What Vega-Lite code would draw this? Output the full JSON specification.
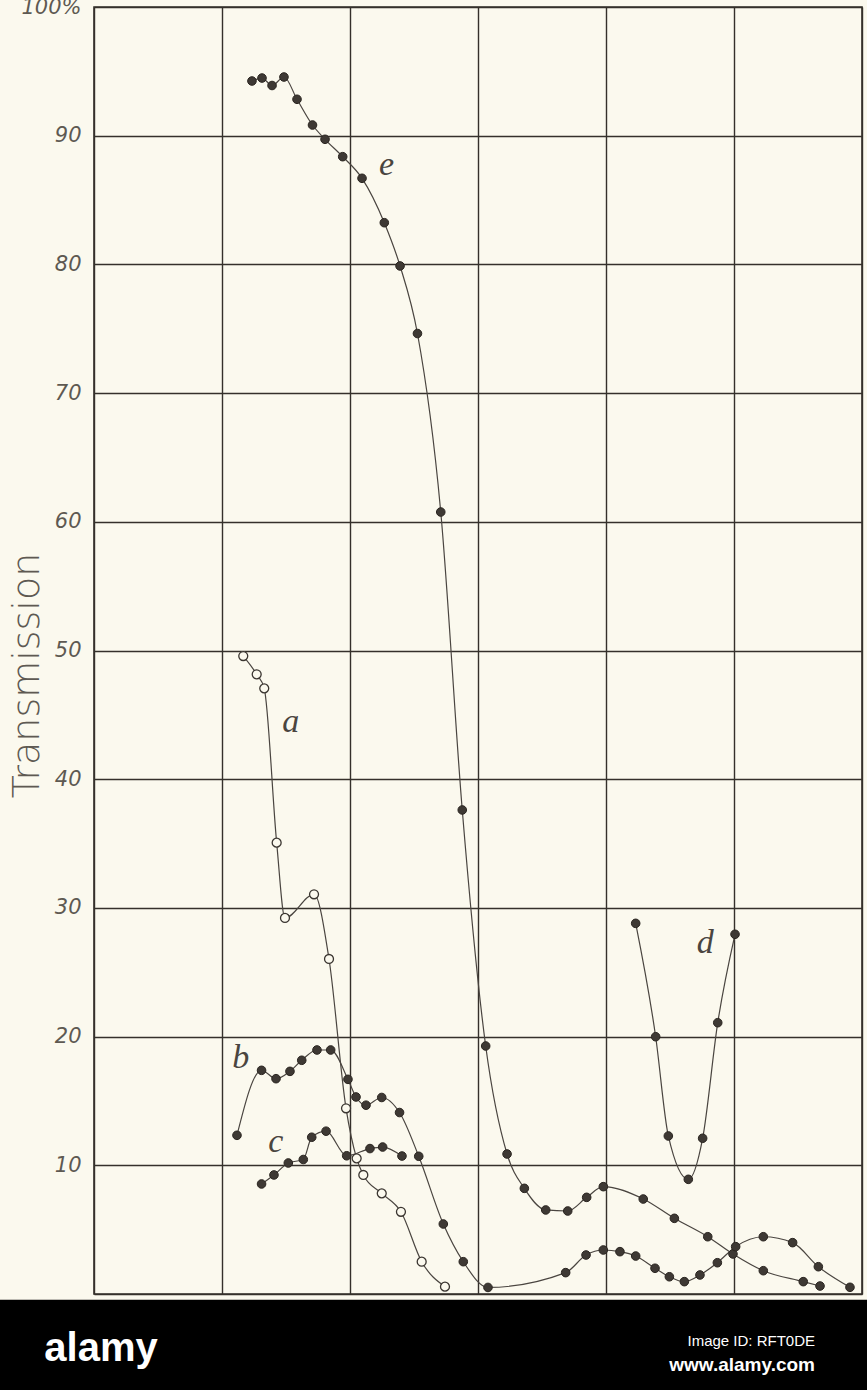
{
  "$schema": "https://vega.github.io/schema/vega-lite/v6.json",
  "width": 768,
  "height": 1287,
  "autosize": "none",
  "padding": {"left": 94, "top": 7, "right": 5, "bottom": 96},
  "background": "#fbf9ee",
  "config": {
    "view": {"stroke": "#35302b", "strokeWidth": 1.6}
  },
  "datasets": {
    "pts": [
      {"s": "e", "x": 1.234, "y": 94.25}, {"s": "e", "x": 1.3125, "y": 94.48}, {"s": "e", "x": 1.391, "y": 93.9}, {"s": "e", "x": 1.484, "y": 94.56},
      {"s": "e", "x": 1.586, "y": 92.83}, {"s": "e", "x": 1.707, "y": 90.83}, {"s": "e", "x": 1.805, "y": 89.72}, {"s": "e", "x": 1.943, "y": 88.37},
      {"s": "e", "x": 2.094, "y": 86.69}, {"s": "e", "x": 2.268, "y": 83.24}, {"s": "e", "x": 2.391, "y": 79.88}, {"s": "e", "x": 2.527, "y": 74.63},
      {"s": "e", "x": 2.709, "y": 60.76}, {"s": "e", "x": 2.877, "y": 37.61}, {"s": "e", "x": 3.06, "y": 19.27}, {"s": "e", "x": 3.227, "y": 10.88},
      {"s": "e", "x": 3.362, "y": 8.21}, {"s": "e", "x": 3.529, "y": 6.53}, {"s": "e", "x": 3.701, "y": 6.45}, {"s": "e", "x": 3.849, "y": 7.51},
      {"s": "e", "x": 3.979, "y": 8.34}, {"s": "e", "x": 4.291, "y": 7.38}, {"s": "e", "x": 4.534, "y": 5.88}, {"s": "e", "x": 4.795, "y": 4.45},
      {"s": "e", "x": 4.992, "y": 3.11}, {"s": "e", "x": 5.229, "y": 1.81}, {"s": "e", "x": 5.541, "y": 0.96}, {"s": "e", "x": 5.672, "y": 0.62},
      {"s": "b", "x": 1.117, "y": 12.33}, {"s": "b", "x": 1.309, "y": 17.38}, {"s": "b", "x": 1.422, "y": 16.73}, {"s": "b", "x": 1.531, "y": 17.3},
      {"s": "b", "x": 1.623, "y": 18.16}, {"s": "b", "x": 1.742, "y": 18.96}, {"s": "b", "x": 1.849, "y": 18.96}, {"s": "b", "x": 1.984, "y": 16.68},
      {"s": "b", "x": 2.047, "y": 15.31}, {"s": "b", "x": 2.125, "y": 14.67}, {"s": "b", "x": 2.248, "y": 15.27}, {"s": "b", "x": 2.387, "y": 14.1},
      {"s": "b", "x": 2.537, "y": 10.7}, {"s": "b", "x": 2.729, "y": 5.44}, {"s": "b", "x": 2.885, "y": 2.51}, {"s": "b", "x": 3.078, "y": 0.51},
      {"s": "b", "x": 3.685, "y": 1.66}, {"s": "b", "x": 3.844, "y": 3.03}, {"s": "b", "x": 3.979, "y": 3.42}, {"s": "b", "x": 4.109, "y": 3.29},
      {"s": "b", "x": 4.232, "y": 2.95}, {"s": "b", "x": 4.383, "y": 2.0}, {"s": "b", "x": 4.495, "y": 1.34}, {"s": "b", "x": 4.612, "y": 0.96},
      {"s": "b", "x": 4.734, "y": 1.48}, {"s": "b", "x": 4.87, "y": 2.43}, {"s": "b", "x": 5.013, "y": 3.68}, {"s": "b", "x": 5.229, "y": 4.45},
      {"s": "b", "x": 5.458, "y": 3.99}, {"s": "b", "x": 5.659, "y": 2.12}, {"s": "b", "x": 5.906, "y": 0.52},
      {"s": "c", "x": 1.309, "y": 8.55}, {"s": "c", "x": 1.406, "y": 9.25}, {"s": "c", "x": 1.518, "y": 10.18}, {"s": "c", "x": 1.635, "y": 10.45},
      {"s": "c", "x": 1.701, "y": 12.18}, {"s": "c", "x": 1.813, "y": 12.65}, {"s": "c", "x": 1.974, "y": 10.74}, {"s": "c", "x": 2.156, "y": 11.3},
      {"s": "c", "x": 2.255, "y": 11.42}, {"s": "c", "x": 2.406, "y": 10.72},
      {"s": "d", "x": 4.232, "y": 28.8}, {"s": "d", "x": 4.388, "y": 19.99}, {"s": "d", "x": 4.487, "y": 12.28}, {"s": "d", "x": 4.643, "y": 8.91},
      {"s": "d", "x": 4.755, "y": 12.1}, {"s": "d", "x": 4.873, "y": 21.08}, {"s": "d", "x": 5.008, "y": 27.95},
      {"s": "a", "x": 1.166, "y": 49.57}, {"s": "a", "x": 1.271, "y": 48.15}, {"s": "a", "x": 1.33, "y": 47.06}, {"s": "a", "x": 1.427, "y": 35.07},
      {"s": "a", "x": 1.492, "y": 29.22}, {"s": "a", "x": 1.719, "y": 31.06}, {"s": "a", "x": 1.836, "y": 26.03}, {"s": "a", "x": 1.969, "y": 14.43},
      {"s": "a", "x": 2.052, "y": 10.54}, {"s": "a", "x": 2.104, "y": 9.25}, {"s": "a", "x": 2.248, "y": 7.82}, {"s": "a", "x": 2.398, "y": 6.39},
      {"s": "a", "x": 2.56, "y": 2.51}, {"s": "a", "x": 2.742, "y": 0.57}
    ],
    "labels": [
      {"x": 2.285, "y": 86.95, "text": "e"},
      {"x": 1.538, "y": 43.7, "text": "a"},
      {"x": 1.146, "y": 17.54, "text": "b"},
      {"x": 1.42, "y": 11.06, "text": "c"},
      {"x": 4.776, "y": 26.47, "text": "d"}
    ],
    "band": [{"x": -0.74, "x2": 6.06, "y": -0.45, "y2": -7.7}],
    "banner": [
      {"x": 0.055, "y": -5.2, "text": "alamy"},
      {"x": 5.633, "y": -4.04, "text": "Image ID: RFT0DE"},
      {"x": 5.633, "y": -5.98, "text": "www.alamy.com"}
    ]
  },
  "encoding": {
    "x": {
      "field": "x", "type": "quantitative",
      "scale": {"domain": [0, 6], "nice": false, "zero": false},
      "axis": {"values": [0, 1, 2, 3, 4, 5, 6], "grid": true, "labels": false, "ticks": false, "domain": false, "title": null,
               "gridColor": "#35302b", "gridWidth": 1.4, "gridOpacity": 1}
    },
    "y": {
      "field": "y", "type": "quantitative",
      "scale": {"domain": [0, 100], "nice": false, "zero": false},
      "axis": {"values": [0, 10, 20, 30, 40, 50, 60, 70, 80, 90, 100], "grid": true, "ticks": false, "domain": false,
               "gridColor": "#35302b", "gridWidth": 1.4, "gridOpacity": 1,
               "labelExpr": "datum.value == 100 ? '100%' : (datum.value == 0 ? '' : datum.label)",
               "labelFont": "DejaVu Sans", "labelFontStyle": "italic", "labelFontSize": 21, "labelColor": "#5e5952",
               "labelPadding": 13,
               "title": "Transmission", "titleFont": "DejaVu Sans", "titleFontSize": 38, "titleFontWeight": 200,
               "titleColor": "#5e5952", "titleAngle": -90, "titleAlign": "center", "titleBaseline": "middle",
               "titleX": -67, "titleY": 668}
    }
  },
  "layer": [
    {
      "data": {"name": "band"},
      "mark": {"type": "rect", "color": "#000000", "clip": false},
      "encoding": {"x2": {"field": "x2"}, "y2": {"field": "y2"}}
    },
    {
      "data": {"name": "pts"},
      "mark": {"type": "line", "interpolate": "monotone", "color": "#4a4540", "strokeWidth": 1.2},
      "encoding": {"detail": {"field": "s"}}
    },
    {
      "data": {"name": "pts"},
      "transform": [{"filter": "datum.s != 'a'"}],
      "mark": {"type": "point", "filled": true, "size": 74, "color": "#3e3934", "stroke": "#2a2520", "strokeWidth": 1, "opacity": 1}
    },
    {
      "data": {"name": "pts"},
      "transform": [{"filter": "datum.s == 'a'"}],
      "mark": {"type": "point", "filled": true, "size": 80, "fill": "#fbf9ee", "stroke": "#3a3530", "strokeWidth": 1.3, "opacity": 1}
    },
    {
      "data": {"name": "labels"},
      "mark": {"type": "text", "font": "Liberation Serif", "fontStyle": "italic", "fontSize": 34, "color": "#4a453f", "align": "center", "baseline": "alphabetic"},
      "encoding": {"text": {"field": "text"}}
    },
    {
      "data": {"name": "banner"},
      "transform": [{"filter": "datum.text == 'alamy'"}],
      "mark": {"type": "text", "font": "Liberation Sans", "fontWeight": "bold", "fontSize": 40, "color": "#ffffff", "align": "center", "baseline": "alphabetic", "clip": false},
      "encoding": {"text": {"field": "text"}}
    },
    {
      "data": {"name": "banner"},
      "transform": [{"filter": "datum.text == 'Image ID: RFT0DE'"}],
      "mark": {"type": "text", "font": "Liberation Sans", "fontSize": 15, "color": "#ffffff", "align": "right", "baseline": "alphabetic", "clip": false},
      "encoding": {"text": {"field": "text"}}
    },
    {
      "data": {"name": "banner"},
      "transform": [{"filter": "datum.text == 'www.alamy.com'"}],
      "mark": {"type": "text", "font": "Liberation Sans", "fontWeight": "bold", "fontSize": 19, "color": "#ffffff", "align": "right", "baseline": "alphabetic", "clip": false},
      "encoding": {"text": {"field": "text"}}
    }
  ]
}
